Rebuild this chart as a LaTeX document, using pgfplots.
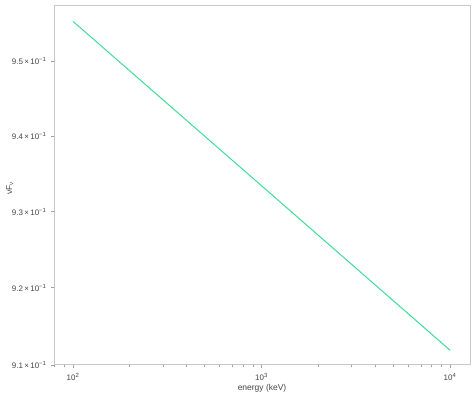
\documentclass[border=0pt]{standalone}
\usepackage{pgfplots}
\pgfplotsset{compat=1.18}
\usepackage{fontspec}
\setmainfont{Liberation Sans}
\definecolor{mint}{HTML}{3DDC97}
\definecolor{framegray}{HTML}{C8C8C8}
\definecolor{labgray}{HTML}{444444}

\begin{document}
\begin{tikzpicture}
\begin{axis}[
  scale only axis, width=416bp, height=360bp,
  xmode=log, ymode=log,
  xmin=79.3, xmax=12760, ymin=0.9100, ymax=0.95763,
  axis line style={framegray, line width=1pt},
  tick align=outside, tick style={framegray!80!black, line width=0.6pt},
  xtick pos=bottom, ytick pos=left,
  major tick length=3bp, minor tick length=2bp,
  xtick={100,1000,10000},
  xticklabels={10\textsuperscript{2},10\textsuperscript{3},10\textsuperscript{4}},
  minor xtick={80,90,200,300,400,500,600,700,800,900,2000,3000,4000,5000,6000,7000,8000,9000},
  ytick={0.91,0.92,0.93,0.94,0.95},
  yticklabels={9.1\,×\,10\textsuperscript{−1},9.2\,×\,10\textsuperscript{−1},9.3\,×\,10\textsuperscript{−1},9.4\,×\,10\textsuperscript{−1},9.5\,×\,10\textsuperscript{−1}},
  minor ytick={},
  ticklabel style={font=\fontsize{8}{9}\selectfont, text=labgray},
  xticklabel style={yshift=-2bp},
  yticklabel style={xshift=-1bp},
  xlabel={energy (keV)}, ylabel={νF\textsubscript{ν}},
  label style={font=\fontsize{8.5}{10}\selectfont, text=labgray},
  xlabel style={yshift=3bp},
  ylabel style={yshift=-8bp, xshift=-3bp},
]
\addplot[mint, line width=1pt] coordinates {
(100, 0.9554)
(1000, 0.9334)
(10000, 0.9119)
};
\end{axis}
\pgfresetboundingbox
\path ([shift={(-54bp,-36bp)}]current axis.south west) rectangle ([shift={(4bp,5bp)}]current axis.north east);
\end{tikzpicture}
\end{document}
